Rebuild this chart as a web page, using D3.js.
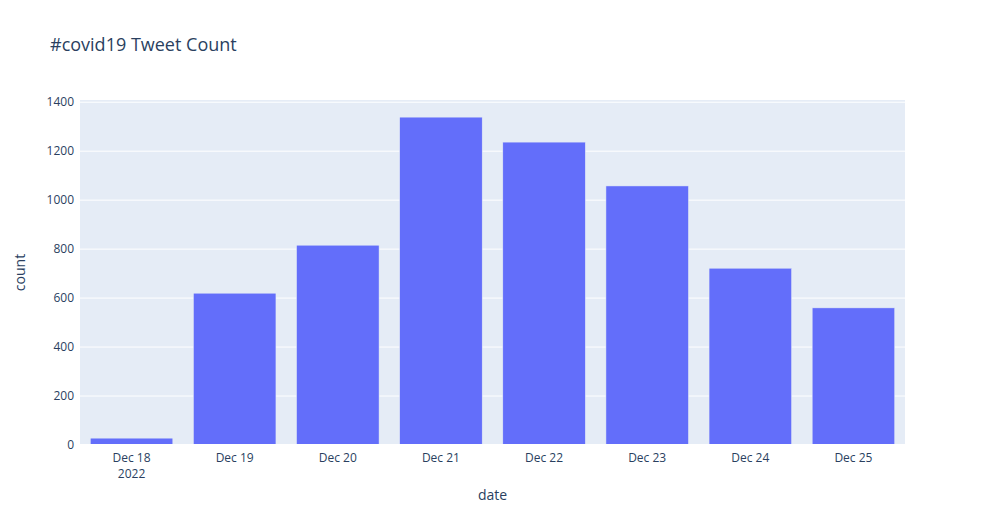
<!DOCTYPE html>
<html>
<head>
<meta charset="utf-8">
<script src="https://cdn.jsdelivr.net/npm/d3@7"></script>
<style>
  body { margin: 0; background: #fff; }
  text { font-family: "Open Sans", Arial, sans-serif; fill: #2a3f5f; }
</style>
</head>
<body>
<div id="chart"></div>
<script>
// Data
const dates = ["Dec 18", "Dec 19", "Dec 20", "Dec 21", "Dec 22", "Dec 23", "Dec 24", "Dec 25"];
const counts = [28, 620, 816, 1339, 1237, 1058, 722, 560];
const yTicks = [0, 200, 400, 600, 800, 1000, 1200, 1400];

const W = 985, H = 525;
const margin = { top: 100, right: 80, bottom: 80, left: 80 };
const width = W - margin.left - margin.right,
      height = H - margin.top - margin.bottom;

const svg = d3.select("#chart").append("svg")
  .attr("width", W).attr("height", H);

const g = svg.append("g")
  .attr("transform", `translate(${margin.left},${margin.top})`);

// Plot background
g.append("rect")
  .attr("width", width).attr("height", height)
  .attr("fill", "#e5ecf6");

const x = d3.scaleBand().domain(dates).range([0, width])
  .paddingInner(0.2).paddingOuter(0.1);
const y = d3.scaleLinear().domain([0, 1409]).range([height, 0]);

// Gridlines
g.selectAll(".grid")
  .data(yTicks.slice(1))
  .enter().append("line")
  .attr("x1", 0).attr("x2", width)
  .attr("y1", d => y(d)).attr("y2", d => y(d))
  .attr("stroke", "#fff").attr("stroke-width", 1);

// Bars
g.selectAll(".bar")
  .data(counts)
  .enter().append("rect")
  .attr("x", (d, i) => x(dates[i]))
  .attr("y", d => y(d))
  .attr("width", x.bandwidth())
  .attr("height", d => height - y(d))
  .attr("fill", "#636efa")
  .attr("stroke", "#e5ecf6").attr("stroke-width", 0.5);

// Zero line
g.append("line")
  .attr("x1", 0).attr("x2", width)
  .attr("y1", y(0)).attr("y2", y(0))
  .attr("stroke", "#fff").attr("stroke-width", 2);

// Y tick labels
g.selectAll(".ytick")
  .data(yTicks)
  .enter().append("text")
  .attr("x", -6).attr("y", d => y(d))
  .attr("dy", "0.35em")
  .attr("text-anchor", "end")
  .style("font-size", "12px")
  .text(d => d);

// X tick labels
g.selectAll(".xtick")
  .data(dates)
  .enter().append("text")
  .attr("x", d => x(d) + x.bandwidth() / 2)
  .attr("y", height + 17)
  .attr("text-anchor", "middle")
  .style("font-size", "12px")
  .text(d => d);

g.append("text")
  .attr("x", x(dates[0]) + x.bandwidth() / 2)
  .attr("y", height + 33)
  .attr("text-anchor", "middle")
  .style("font-size", "12px")
  .text("2022");

// Axis titles
svg.append("text")
  .attr("x", margin.left + width / 2).attr("y", 500)
  .attr("text-anchor", "middle")
  .style("font-size", "14px")
  .text("date");

svg.append("text")
  .attr("transform", `translate(25,${margin.top + height / 2}) rotate(-90)`)
  .attr("text-anchor", "middle")
  .style("font-size", "14px")
  .text("count");

// Title
svg.append("text")
  .attr("x", 50).attr("y", 51)
  .style("font-size", "18px")
  .text("#covid19 Tweet Count");
</script>
</body>
</html>
